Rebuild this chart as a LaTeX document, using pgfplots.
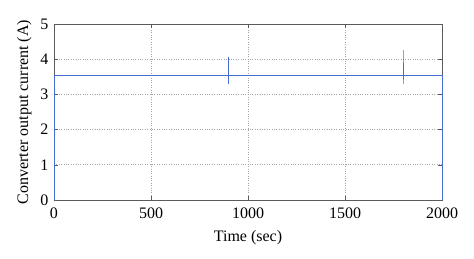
\documentclass[border=0pt]{standalone}
\usepackage{fontspec}
\setmainfont{Liberation Serif}
\usepackage{pgfplots}
\pgfplotsset{compat=1.18}
\usetikzlibrary{calc}
\definecolor{lineblue}{RGB}{70,110,210}
\definecolor{boxgray}{RGB}{90,90,95}
\begin{document}
\begin{tikzpicture}[x=1bp,y=1bp]
\fontsize{16bp}{19bp}\selectfont
\begin{axis}[
  scale only axis,
  width=388bp, height=176bp,
  xmin=0, xmax=2000, ymin=0, ymax=5,
  xtick={0,500,1000,1500,2000},
  ytick={0,1,2,3,4,5},
  grid=major,
  major grid style={dotted, gray!70, line width=0.7pt},
  tick align=inside,
  major tick length=4bp,
  tick style={boxgray, line width=0.6pt},
  axis line style={boxgray, line width=0.8pt},
  xlabel={Time (sec)},
  ylabel={Converter output current (A)},
  ticklabel style={font=\fontsize{16bp}{19bp}\selectfont},
  label style={font=\fontsize{16bp}{19bp}\selectfont},
  xticklabel style={yshift=-2bp},
  /pgf/number format/assume math mode=true,
  /pgf/number format/1000 sep={},
  xlabel style={yshift=-1bp},
  ylabel style={yshift=-2bp},
  clip=false,
]
\addplot[lineblue, line width=1pt] coordinates {
 (0,0) (0,3.53) (897,3.53) (897,4.06) (897,3.30) (897,3.53)
 (1799,3.53) (1799,4.26) (1799,3.30) (1799,3.53)
 (2000,3.53) (2000,0)
};
\coordinate (bl) at (rel axis cs:0,0);
\coordinate (tr) at (rel axis cs:1,1);
\end{axis}
\pgfresetboundingbox
\useasboundingbox ($(bl)+(-54,-59)$) rectangle ($(tr)+(32,24)$);
\end{tikzpicture}
\end{document}
